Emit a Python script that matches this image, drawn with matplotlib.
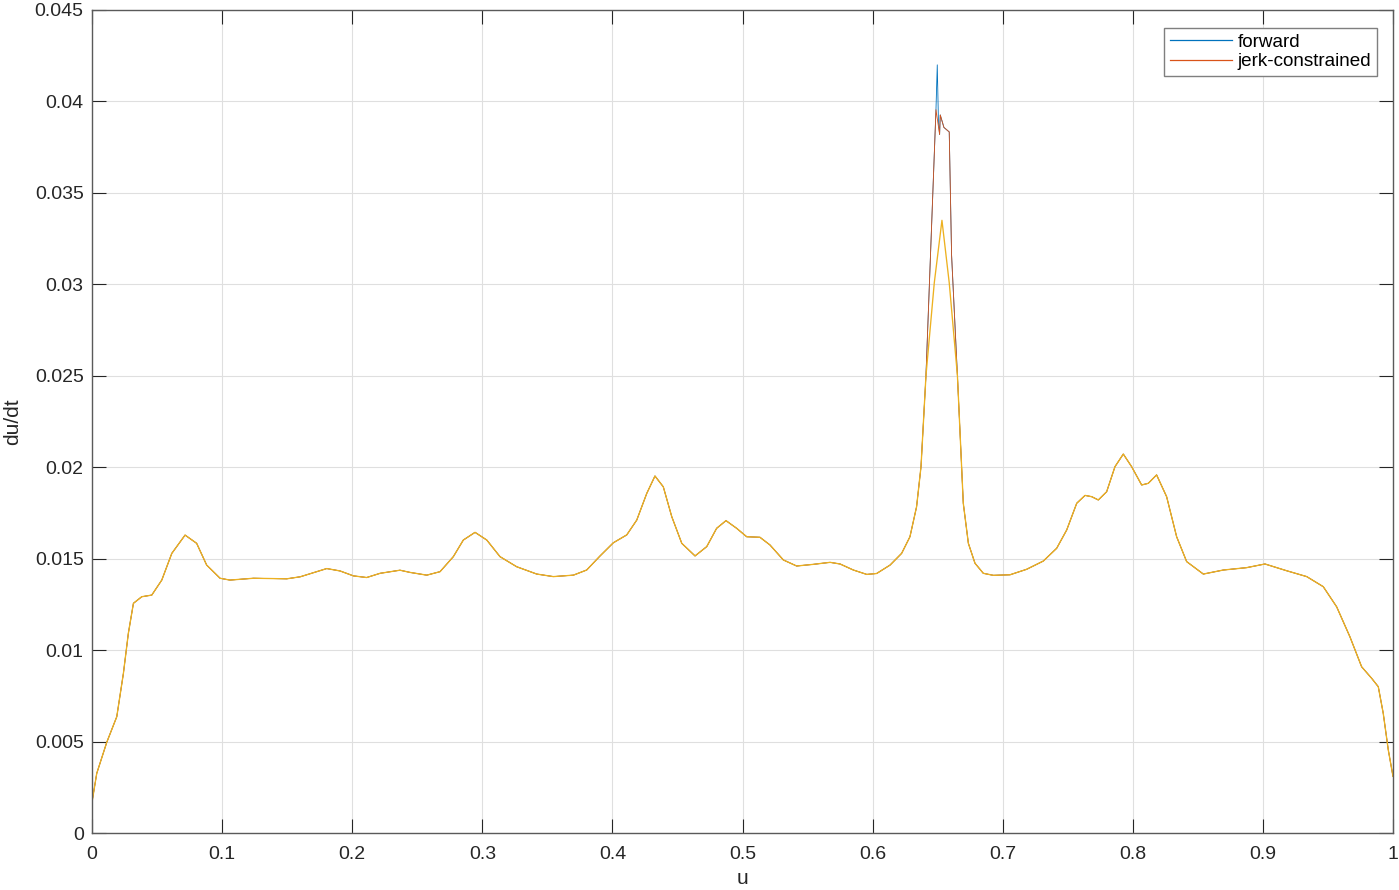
import matplotlib
matplotlib.use("Agg")
import matplotlib.pyplot as plt

# smooth profile (third line, drawn on top)
u_base = [0.0, 0.0036, 0.0113, 0.019, 0.0241, 0.0279, 0.0318, 0.0382, 0.0459,
          0.0536, 0.0613, 0.0715, 0.0804, 0.0881, 0.0984, 0.106, 0.124, 0.1497,
          0.160, 0.1804, 0.1906, 0.2009, 0.2111, 0.2214, 0.2367, 0.2444, 0.2573,
          0.2675, 0.2777, 0.2854, 0.2944, 0.3034, 0.3136, 0.3264, 0.3418, 0.3546,
          0.370, 0.3802, 0.3905, 0.4007, 0.411, 0.4187, 0.4264, 0.4327, 0.4391,
          0.4456, 0.4533, 0.4635, 0.4725, 0.4801, 0.4873, 0.4955, 0.5032, 0.5134,
          0.5211, 0.5314, 0.5416, 0.5544, 0.5673, 0.575, 0.5852, 0.5955, 0.6031,
          0.6134, 0.6223, 0.6287, 0.6338, 0.6372, 0.641, 0.6474, 0.6533, 0.6589,
          0.6652, 0.6697, 0.6736, 0.6787, 0.6851, 0.6928, 0.7056, 0.7184, 0.7312,
          0.7415, 0.7492, 0.7569, 0.7633, 0.7684, 0.7735, 0.7799, 0.7863, 0.7927,
          0.7991, 0.8068, 0.8119, 0.8183, 0.826, 0.8337, 0.8414, 0.8542, 0.8696,
          0.8875, 0.9016, 0.9183, 0.9337, 0.9464, 0.9567, 0.9669, 0.9759, 0.9836,
          0.9887, 0.9925, 0.9964, 1.0]
v_base = [0.0017, 0.00326, 0.00496, 0.00636, 0.00873, 0.01092, 0.01256, 0.01292,
          0.01301, 0.01383, 0.01529, 0.01629, 0.01584, 0.01465, 0.01393, 0.01383,
          0.01393, 0.0139, 0.01401, 0.01446, 0.01433, 0.01406, 0.01397, 0.0142,
          0.01437, 0.01425, 0.0141, 0.01429, 0.01511, 0.01602, 0.01644, 0.01602,
          0.01511, 0.01456, 0.01416, 0.01402, 0.0141, 0.01438, 0.01515, 0.01587,
          0.0163, 0.01711, 0.01857, 0.01952, 0.01893, 0.0173, 0.01584, 0.01515,
          0.01566, 0.01666, 0.01708, 0.01666, 0.0162, 0.01617, 0.01575, 0.01493,
          0.0146, 0.01469, 0.0148, 0.01471, 0.01438, 0.01414, 0.01419, 0.01465,
          0.01529, 0.0162, 0.01784, 0.02003, 0.025, 0.03008, 0.0335, 0.03008,
          0.025, 0.01803, 0.01584, 0.01475, 0.0142, 0.01409, 0.01412, 0.01442,
          0.01487, 0.01557, 0.01657, 0.01803, 0.01846, 0.01839, 0.01821, 0.01866,
          0.02003, 0.02072, 0.02003, 0.01903, 0.01912, 0.01958, 0.01839, 0.0162,
          0.01484, 0.01416, 0.01438, 0.01451, 0.01471, 0.01434, 0.01402, 0.01347,
          0.01237, 0.01073, 0.00909, 0.00846, 0.008, 0.00655, 0.00454, 0.0031]

# jerk-constrained deviates only around the peak
u_jerk_peak = [0.6487, 0.6515, 0.652, 0.6548, 0.6589, 0.6607]
v_jerk_peak = [0.03955, 0.03819, 0.03926, 0.03858, 0.03833, 0.0316]

# forward adds a narrow spike on top of that
u_fwd_spike = [0.6487, 0.6497, 0.6506]
v_fwd_spike = [0.03955, 0.0420, 0.0389]

BLUE = "#0072BD"
ORANGE = "#D95319"
YELLOW = "#EDB120"
AXC = "#262626"


def splice(u_in, v_in, u_lo, u_hi):
    """Base curve with the points between u_lo and u_hi replaced."""
    left = [(u, v) for u, v in zip(u_base, v_base) if u <= u_lo]
    right = [(u, v) for u, v in zip(u_base, v_base) if u >= u_hi]
    pts = left + list(zip(u_in, v_in)) + right
    return [p[0] for p in pts], [p[1] for p in pts]


u_jerk, v_jerk = splice(u_jerk_peak, v_jerk_peak, 0.641, 0.6652)
u_fwd, v_fwd = splice(u_fwd_spike + u_jerk_peak[1:], v_fwd_spike + v_jerk_peak[1:],
                      0.641, 0.6652)

plt.rcParams['font.family'] = ['Liberation Sans', 'DejaVu Sans']

fig = plt.figure(figsize=(13.99, 8.90), dpi=100)
ax = fig.add_axes([0.0658, 0.0640, 0.9299, 0.9248])

ax.plot(u_fwd, v_fwd, color=BLUE, lw=0.6, label="forward")
ax.plot(u_jerk, v_jerk, color=ORANGE, lw=0.6, label="jerk-constrained")
ax.plot(u_base, v_base, color=YELLOW, lw=0.95)

ax.set_xlim(0, 1)
ax.set_ylim(0, 0.045)
xt = [i / 10 for i in range(11)]
ax.set_xticks(xt)
ax.set_xticklabels(["0"] + [f"{t:g}" for t in xt[1:-1]] + ["1"])
yt = [i * 0.005 for i in range(10)]
ax.set_yticks(yt)
ax.set_yticklabels(["0"] + [f"{t:.3f}".rstrip("0") for t in yt[1:]])

ax.grid(True, color="#dfdfdf", lw=0.8)
ax.set_axisbelow(True)
ax.tick_params(direction="in", length=10, width=0.8, colors=AXC,
               labelsize=14, top=True, right=True)
ax.tick_params(axis="x", pad=9)
ax.tick_params(axis="y", pad=6)
for s in ax.spines.values():
    s.set_color("#5a5a5a")
    s.set_linewidth(1.0)

ax.set_xlabel("u", fontsize=15, color=AXC, labelpad=5)
ax.set_ylabel("du/dt", fontsize=15, color=AXC, labelpad=9)

leg = ax.legend(loc="upper right", bbox_to_anchor=(0.9877, 0.978),
                borderaxespad=0, fancybox=False, framealpha=1,
                edgecolor="#7f7f7f", fontsize=13.6, handlelength=3.3,
                handletextpad=0.3, borderpad=0.3, labelspacing=0.12)
for line in leg.get_lines():
    line.set_linewidth(0.9)
leg.get_frame().set_linewidth(1.0)

fig.savefig("out.png", dpi=100)
